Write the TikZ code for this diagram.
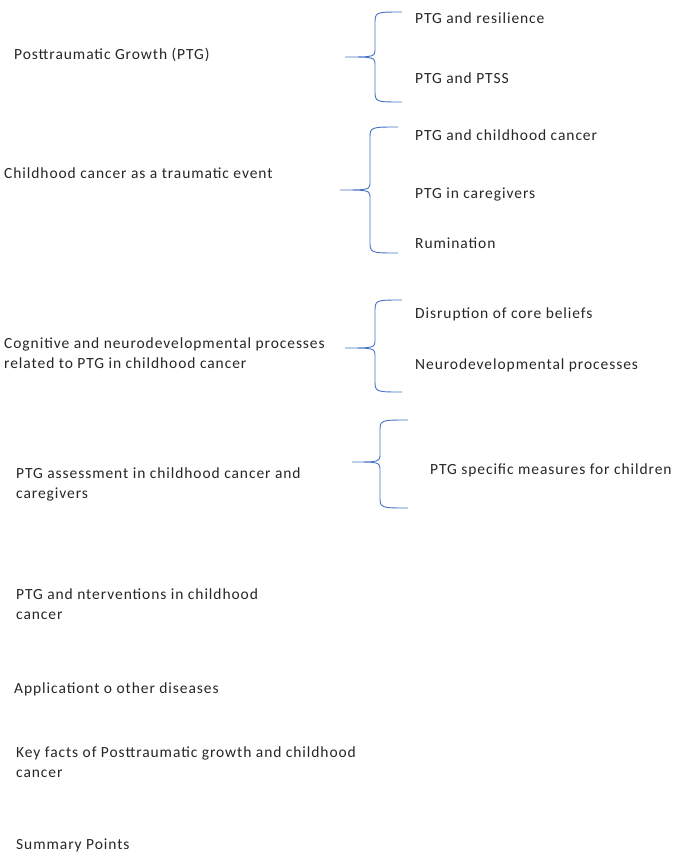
\documentclass[tikz,border=0pt]{standalone}
\usepackage{fontspec}
\setmainfont[LetterSpace=6]{Carlito}
\begin{document}
\begin{tikzpicture}[x=1pt,y=-1pt,
  lbl/.style={anchor=west,align=left,inner sep=0pt,font=\fontsize{15.5}{20}\selectfont,text=black!85},
  br/.style={draw={rgb,255:red,68;green,114;blue,196},line width=0.9pt}]
\useasboundingbox (0,0) rectangle (685,857);
\newcommand{\mybrace}[6]{% xend, xv, xtip, ytop, ytip, ybot
  \draw[br] (#1,#4) .. controls (#2,#4) .. (#2,#4+12) -- (#2,#5-9) .. controls (#2,#5) .. (#3,#5)
    .. controls (#2,#5) .. (#2,#5+9) -- (#2,#6-12) .. controls (#2,#6) .. (#1,#6);}
\mybrace{402}{375}{345}{12}{57}{102}
\mybrace{398}{370}{340}{127}{190}{253}
\mybrace{402}{375}{345}{300}{348}{392}
\mybrace{408}{380}{352}{420}{462}{508}
\node[lbl] (a) at (14,55) {Posttraumatic Growth (PTG)};
\node[lbl] (b) at (4,173) {Childhood cancer as a traumatic event};
\node[lbl] (c) at (4,353) {Cognitive and neurodevelopmental processes\\related to PTG in childhood cancer};
\node[lbl] (d) at (16,484) {PTG assessment in childhood cancer and\\caregivers};
\node[lbl] (e) at (16,604) {PTG and nterventions in childhood\\cancer};
\node[lbl] (f) at (14,689) {Applicationt o other diseases};
\node[lbl] (g) at (16,762) {Key facts of Posttraumatic growth and childhood\\cancer};
\node[lbl] (h) at (16,845) {Summary Points};
\node[lbl] (r1) at (415,18) {PTG and resilience};
\node[lbl] (r2) at (415,78) {PTG and PTSS};
\node[lbl] (r3) at (415,135) {PTG and childhood cancer};
\node[lbl] (r4) at (415,194) {PTG in caregivers};
\node[lbl] (r5) at (415,243) {Rumination};
\node[lbl] (r6) at (415,314) {Disruption of core beliefs};
\node[lbl] (r7) at (415,365) {Neurodevelopmental processes};
\node[lbl] (r8) at (430,470) {PTG specific measures for children};
\end{tikzpicture}
\end{document}
